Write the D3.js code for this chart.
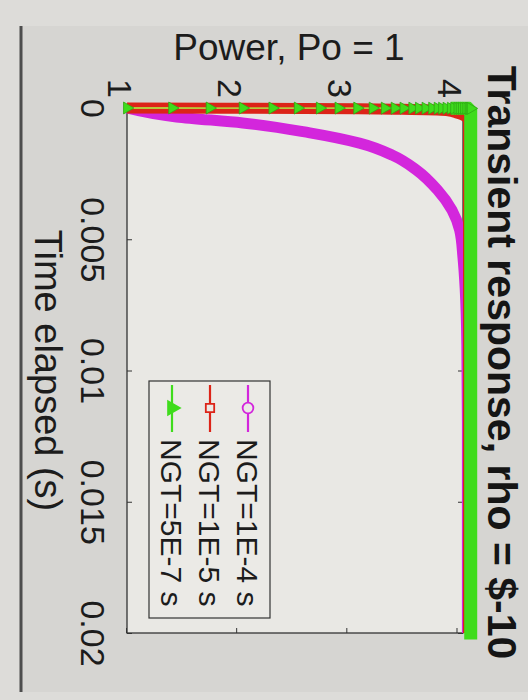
<!DOCTYPE html>
<html>
<head>
<meta charset="utf-8">
<script src="https://cdn.jsdelivr.net/npm/d3@7"></script>
<style>
  body { margin: 0; background: #dddcd9; }
  svg { display: block; font-family: 'Liberation Sans', Arial, sans-serif; }
</style>
</head>
<body>
<div id="chart"></div>
<script>
const seriesLabels = ['NGT=1E-4 s', 'NGT=1E-5 s', 'NGT=5E-7 s'];
const timeTicks = [0, 0.005, 0.01, 0.015, 0.02];
const powerTicks = [1, 2, 3, 4];

const magentaTime = [0, 0.00034, 0.00057, 0.00095, 0.00134, 0.0018, 0.00237, 0.00313, 0.00389, 0.00466, 0.0057, 0.0069, 0.009, 0.012, 0.02];
const magentaPower = [1, 1.45, 2.05, 2.66, 3.11, 3.41, 3.63, 3.82, 3.95, 4.02, 4.05, 4.07, 4.085, 4.09, 4.09];

const redTime = [0, 0.00001, 0.00002, 0.00003, 0.00005, 0.0001, 0.0002, 0.0003, 0.0005, 0.002, 0.02];
const redPower = [1, 1.9, 2.6, 3.1, 3.5, 3.9, 4.0, 4.06, 4.1, 4.1, 4.1];

const greenTime = [0, 5e-7, 1e-6, 1.5e-6, 2e-6, 2.5e-6, 3e-6, 3.5e-6, 4e-6, 4.5e-6, 5e-6, 5.5e-6, 6e-6, 6.5e-6, 7e-6, 7.5e-6,
  8e-6, 8.5e-6, 9e-6, 9.5e-6, 1e-5, 1.05e-5, 1.1e-5, 1.15e-5, 1.2e-5, 1.25e-5, 1.3e-5, 1.35e-5, 1.4e-5, 1.5e-5,
  0.002, 0.005, 0.01, 0.015, 0.02];
const greenPower = [1, 1.41, 1.75, 2.05, 2.32, 2.55, 2.75, 2.92, 3.09, 3.23, 3.34, 3.43, 3.51, 3.59, 3.65, 3.71,
  3.77, 3.82, 3.86, 3.9, 3.94, 3.97, 4.0, 4.02, 4.04, 4.06, 4.08, 4.1, 4.11, 4.12,
  4.12, 4.12, 4.12, 4.12, 4.12];

const colors = ['#d326dc', '#dc2418', '#3fdc1c'];
const textColor = '#1c1c1c';

const width = 528, height = 700;
// plot is drawn in its own frame (time across, power up), then turned 90deg like the photo
const plotW = 525, plotH = 336;

const svg = d3.select('#chart').append('svg')
  .attr('width', width)
  .attr('height', height);

svg.append('rect').attr('width', width).attr('height', height).attr('fill', '#dddcd9');
// figure window seen in the photo
svg.append('rect').attr('x', 22).attr('y', 26).attr('width', width - 22).attr('height', 666).attr('fill', '#d6d5d2');
svg.append('line').attr('x1', 21).attr('x2', 21).attr('y1', 26).attr('y2', 692)
  .attr('stroke', '#4d4d4d').attr('stroke-width', 3);

const g = svg.append('g')
  .attr('transform', `translate(463, 108) rotate(90)`);

const x = d3.scaleLinear().domain([0, 0.02]).range([0, plotW]);
const y = d3.scaleLinear().domain([1, 4.05]).range([plotH, 0]);

g.append('rect')
  .attr('width', plotW).attr('height', plotH)
  .attr('fill', '#e9e8e4');

// axes: ticks inward, matlab style
const styleAxis = (sel) => {
  sel.select('.domain').remove();
  sel.selectAll('.tick line').attr('stroke', '#333');
  sel.selectAll('text')
    .attr('font-size', 34)
    .attr('font-family', "'Liberation Sans', Arial, sans-serif")
    .attr('fill', textColor);
};

g.append('g')
  .attr('transform', `translate(0, ${plotH})`)
  .call(d3.axisBottom(x).tickValues(timeTicks).tickFormat(d => String(d))
    .tickSizeInner(-5).tickSizeOuter(0).tickPadding(22))
  .call(styleAxis);

g.append('g')
  .call(d3.axisTop(x).tickValues(timeTicks).tickFormat('').tickSizeInner(-5).tickSizeOuter(0))
  .call(styleAxis);

g.append('g')
  .call(d3.axisLeft(y).tickValues(powerTicks).tickFormat(d3.format('d'))
    .tickSizeInner(-5).tickSizeOuter(0).tickPadding(10))
  .call(styleAxis)
  .selectAll('text').attr('dy', '0.55em');

g.append('g')
  .attr('transform', `translate(${plotW}, 0)`)
  .call(d3.axisRight(y).tickValues(powerTicks).tickFormat('').tickSizeInner(-5).tickSizeOuter(0))
  .call(styleAxis);

g.append('rect')
  .attr('width', plotW).attr('height', plotH)
  .attr('fill', 'none').attr('stroke', '#333').attr('stroke-width', 1.3);

const toPoints = (ts, ps) => ts.map((t, i) => ({ t, p: ps[i] }));
const magenta = toPoints(magentaTime, magentaPower);
const red = toPoints(redTime, redPower);
const green = toPoints(greenTime, greenPower);

const line = d3.line().x(d => x(d.t)).y(d => y(d.p)).curve(d3.curveMonotoneX);
const straight = d3.line().x(d => x(d.t)).y(d => y(d.p));

// markers at every step pile up into solid bands
g.append('path').datum(magenta)
  .attr('d', line).attr('fill', 'none')
  .attr('stroke', colors[0]).attr('stroke-width', 11)
  .attr('stroke-linejoin', 'round');

g.append('path').datum(red)
  .attr('d', line).attr('fill', 'none')
  .attr('stroke', colors[1]).attr('stroke-width', 11)
  .attr('stroke-linejoin', 'round');

const greenRise = green.filter(d => d.t < 1e-4);

g.append('path').datum(greenRise)
  .attr('d', straight).attr('fill', 'none')
  .attr('stroke', '#b8c83a').attr('stroke-width', 1.8);

g.append('path').datum(green.filter(d => d.p >= 4.0))
  .attr('d', straight).attr('fill', 'none')
  .attr('stroke', colors[2]).attr('stroke-width', 13)
  .attr('stroke-linejoin', 'bevel')
  .attr('stroke-linecap', 'square');

// separate triangles only where the steps are still spread out
const tri = d3.symbol().type(d3.symbolTriangle).size(62);
g.selectAll('.gmark')
  .data(greenRise)
  .enter()
  .append('path')
  .attr('class', 'gmark')
  .attr('d', tri)
  .attr('transform', d => `translate(${x(d.t)}, ${y(d.p)})`)
  .attr('fill', colors[2])
  .attr('stroke', '#2fa814')
  .attr('stroke-width', 0.8);

// labels
g.append('text')
  .attr('x', plotW / 2 - 8).attr('y', -25)
  .attr('text-anchor', 'middle')
  .attr('font-size', 41).attr('font-weight', 'bold')
  .attr('fill', '#151515')
  .text('Transient response, rho = $-10');

g.append('text')
  .attr('x', plotW / 2).attr('y', 428)
  .attr('text-anchor', 'middle')
  .attr('font-size', 38)
  .attr('fill', textColor)
  .text('Time elapsed (s)');

g.append('text')
  .attr('transform', `translate(-48, ${plotH / 2 + 6}) rotate(-90)`)
  .attr('text-anchor', 'middle')
  .attr('font-size', 37)
  .attr('fill', textColor)
  .text('Power, Po = 1');

// legend, bottom right of the unturned plot
const legend = g.append('g').attr('transform', 'translate(273, 193)');
legend.append('rect')
  .attr('width', 237).attr('height', 121)
  .attr('fill', '#ebeae6').attr('stroke', '#333').attr('stroke-width', 1.2);

const entry = legend.selectAll('.entry')
  .data(seriesLabels)
  .enter()
  .append('g')
  .attr('class', 'entry')
  .attr('transform', (d, i) => `translate(0, ${22 + i * 38})`);

entry.append('line')
  .attr('x1', 4).attr('x2', 51)
  .attr('stroke', (d, i) => colors[i]).attr('stroke-width', 2.2);

entry.append('path')
  .attr('d', (d, i) => d3.symbol().type([d3.symbolCircle, d3.symbolSquare, d3.symbolTriangle][i]).size([90, 70, 80][i])())
  .attr('transform', 'translate(27, 0)')
  .attr('fill', (d, i) => i === 2 ? colors[2] : '#ebeae6')
  .attr('stroke', (d, i) => colors[i])
  .attr('stroke-width', 1.8);

entry.append('text')
  .attr('x', 58)
  .attr('dy', '0.36em')
  .attr('font-size', 30)
  .attr('fill', textColor)
  .text(d => d);
</script>
</body>
</html>
